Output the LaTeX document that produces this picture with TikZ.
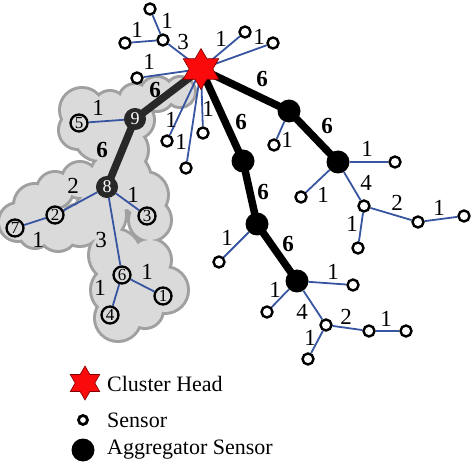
\documentclass[tikz,border=0pt]{standalone}
\usepackage{fontspec}
\setmainfont{Liberation Serif}
\usetikzlibrary{shapes.geometric}
\pgfdeclarelayer{bgcloud}
\pgfdeclarelayer{bgedges}
\pgfsetlayers{bgcloud,bgedges,main}
\definecolor{edgeblue}{RGB}{55,85,160}
\definecolor{darkg}{RGB}{40,40,40}
\definecolor{cloudfill}{RGB}{218,218,218}
\definecolor{cloudline}{RGB}{160,160,160}
\definecolor{starred}{RGB}{250,10,10}
\begin{document}
\begin{tikzpicture}[x=1pt,y=-1pt,
  sensor/.style={circle, draw=black, fill=white, line width=2.4pt, minimum size=11pt, inner sep=0pt},
  agg/.style={circle, fill=black, minimum size=23pt, inner sep=0pt},
  cnode/.style={circle, draw=black, line width=2.3pt, fill=cloudfill, minimum size=17pt, inner sep=0pt, font=\fontsize{17}{17}\selectfont},
  dnode/.style={circle, fill=darkg, draw=darkg, line width=1pt, text=white, minimum size=21pt, inner sep=0pt, font=\fontsize{18}{18}\selectfont},
  chead/.style={star, star points=6, star point ratio=1.73, fill=starred, draw=red!50!black, line width=0.6pt, inner sep=0pt},
  lbl/.style={inner sep=0pt, font=\fontsize{23}{23}\selectfont},
  blbl/.style={inner sep=0pt, font=\fontsize{23}{23}\selectfont\bfseries},
  legtext/.style={anchor=west, inner sep=0pt, font=\fontsize{22}{22}\selectfont},
  bedge/.style={draw=edgeblue, line width=1.8pt},
  kedge/.style={draw=black, line width=7.5pt},
  gedge/.style={draw=darkg, line width=7.5pt}]
\useasboundingbox (0,0) rectangle (474,470);

% cloud
\begin{pgfonlayer}{bgcloud}
\foreach \cx/\cy/\r in {180/92/14,157/94/16,135/100/15,110/107/15,82/110/21,78/130/18,100/135/25,135/120/18,125/150/22,120/180/30,145/195/22,150/220/20,80/180/17,55/190/17,35/205/20,18/222/18,35/232/15,58/232/18,80/225/20,100/215/25,115/255/25,115/290/23,118/318/22,145/310/17,165/290/22,150/260/20,140/280/20}
  {\draw[cloudline, line width=6pt] (\cx,\cy) circle[radius=\r pt];}
\foreach \cx/\cy/\r in {180/92/14,157/94/16,135/100/15,110/107/15,82/110/21,78/130/18,100/135/25,135/120/18,125/150/22,120/180/30,145/195/22,150/220/20,80/180/17,55/190/17,35/205/20,18/222/18,35/232/15,58/232/18,80/225/20,100/215/25,115/255/25,115/290/23,118/318/22,145/310/17,165/290/22,150/260/20,140/280/20}
  {\fill[cloudfill] (\cx,\cy) circle[radius=\r pt];}
\end{pgfonlayer}

% cluster head
\node[chead, minimum size=41pt] (ch) at (201,69) {};

% sensors around cluster head
\node[sensor] (sA) at (150,9) {};
\node[sensor] (sB) at (163,40) {};
\node[sensor] (sC) at (125,43) {};
\node[sensor] (sD) at (137,78) {};
\node[sensor] (sE) at (245,32) {};
\node[sensor] (sF) at (273,43) {};
\node[sensor] (sG) at (167,141) {};
\node[sensor] (sH) at (203,133) {};
\node[sensor] (sI) at (186,168) {};

% aggregators
\node[agg] (a1) at (289,111) {};
\node[agg] (a2) at (338,162) {};
\node[agg] (a3) at (243,161) {};
\node[agg] (a4) at (257,224) {};
\node[agg] (a5) at (297,281) {};

% right branch sensors
\node[sensor] (r1) at (274,145) {};
\node[sensor] (r2) at (395,162) {};
\node[sensor] (r3) at (301,197) {};
\node[sensor] (r4) at (364,206) {};
\node[sensor] (r5) at (418,222) {};
\node[sensor] (r6) at (464,216) {};
\node[sensor] (r7) at (358,248) {};

% lower branch sensors
\node[sensor] (d1) at (219,262) {};
\node[sensor] (d2) at (353,285) {};
\node[sensor] (d3) at (267,312) {};
\node[sensor] (d4) at (326,325) {};
\node[sensor] (d5) at (369,331) {};
\node[sensor] (d6) at (406,331) {};
\node[sensor] (d7) at (308,359) {};

% cloud nodes
\node[dnode] (n9) at (135,119) {9};
\node[dnode] (n8) at (107,187) {8};
\node[cnode] (n5) at (79,123) {5};
\node[cnode] (n2) at (55,215) {2};
\node[cnode] (n7) at (15,228) {7};
\node[cnode] (n3) at (147,216) {3};
\node[cnode] (n6) at (122,275) {6};
\node[cnode] (n1) at (163,296) {1};
\node[cnode] (n4) at (110,315) {4};

% edges
\begin{pgfonlayer}{bgedges}
\draw[bedge] (ch.center) -- (sB);
\draw[bedge] (sB) -- (sA);
\draw[bedge] (sB) -- (sC);
\draw[bedge] (ch.center) -- (sD);
\draw[bedge] (ch.center) -- (sE);
\draw[bedge] (ch.center) -- (sF);
\draw[bedge] (ch.center) -- (sG);
\draw[bedge] (ch.center) -- (sH);
\draw[bedge] (ch.center) -- (sI);
\draw[kedge] (ch.center) -- (a1.center);
\draw[kedge] (a1.center) -- (a2.center);
\draw[kedge] (ch.center) -- (a3.center);
\draw[kedge] (a3.center) -- (a4.center);
\draw[kedge] (a4.center) -- (a5.center);
\draw[gedge] (ch.center) -- (n9.center);
\draw[gedge] (n9.center) -- (n8.center);
\draw[bedge] (a1) -- (r1);
\draw[bedge] (a2) -- (r2);
\draw[bedge] (a2) -- (r3);
\draw[bedge] (a2) -- (r4);
\draw[bedge] (r4) -- (r5);
\draw[bedge] (r5) -- (r6);
\draw[bedge] (r4) -- (r7);
\draw[bedge] (a4) -- (d1);
\draw[bedge] (a5) -- (d2);
\draw[bedge] (a5) -- (d3);
\draw[bedge] (a5) -- (d4);
\draw[bedge] (d4) -- (d5);
\draw[bedge] (d5) -- (d6);
\draw[bedge] (d4) -- (d7);
\draw[bedge] (n9) -- (n5);
\draw[bedge] (n8) -- (n2);
\draw[bedge] (n2) -- (n7);
\draw[bedge] (n8) -- (n3);
\draw[bedge] (n8) -- (n6);
\draw[bedge] (n6) -- (n1);
\draw[bedge] (n6) -- (n4);
\end{pgfonlayer}

% labels near cluster head
\node[lbl] (lAB) at (167,21) {1};
\node[lbl] (lBC) at (137,30) {1};
\node[lbl] (lB) at (183,42) {3};
\node[lbl] (lD) at (149,62) {1};
\node[lbl] (lE) at (221,39) {1};
\node[lbl] (lF) at (259,37) {1};
\node[lbl] (lG) at (171,120) {1};
\node[lbl] (lH) at (208,109) {1};
\node[lbl] (lI) at (181,142) {1};

% bold weights
\node[blbl] (w1) at (262,79) {6};
\node[blbl] (w2) at (327,126) {6};
\node[blbl] (w3) at (241,122) {6};
\node[blbl] (w4) at (263,192) {6};
\node[blbl] (w5) at (288,244) {6};
\node[blbl] (w6) at (155,90) {6};
\node[blbl] (w7) at (102,150) {6};

% right branch labels
\node[lbl] (lr1) at (287,140) {1};
\node[lbl] (lr2) at (367,149) {1};
\node[lbl] (lr3) at (323,195) {1};
\node[lbl] (lr4) at (366,183) {4};
\node[lbl] (lr5) at (397,203) {2};
\node[lbl] (lr6) at (439,208) {1};
\node[lbl] (lr7) at (352,224) {1};

% lower branch labels
\node[lbl] (ld1) at (227,238) {1};
\node[lbl] (ld2) at (333,272) {1};
\node[lbl] (ld3) at (275,290) {1};
\node[lbl] (ld4) at (302,312) {4};
\node[lbl] (ld5) at (346,317) {2};
\node[lbl] (ld6) at (386,319) {1};
\node[lbl] (ld7) at (310,338) {1};

% cloud labels
\node[lbl] (lc5) at (98,108) {1};
\node[lbl] (lc2) at (73,186) {2};
\node[lbl] (lc3) at (133,195) {1};
\node[lbl] (lc7) at (38,240) {1};
\node[lbl] (lc6) at (101,240) {3};
\node[lbl] (lc1) at (147,272) {1};
\node[lbl] (lc4) at (100,288) {1};

% legend
\node[chead, minimum size=34pt] (legstar) at (85,383) {};
\node[sensor, minimum size=9pt, line width=2.8pt] (legsensor) at (83,420) {};
\node[agg, minimum size=23pt] (legagg) at (83,450) {};
\node[legtext] (tstar) at (107,384) {Cluster Head};
\node[legtext] (tsensor) at (107,420) {Sensor};
\node[legtext] (tagg) at (107,450) {Aggregator Sensor};
\end{tikzpicture}
\end{document}
